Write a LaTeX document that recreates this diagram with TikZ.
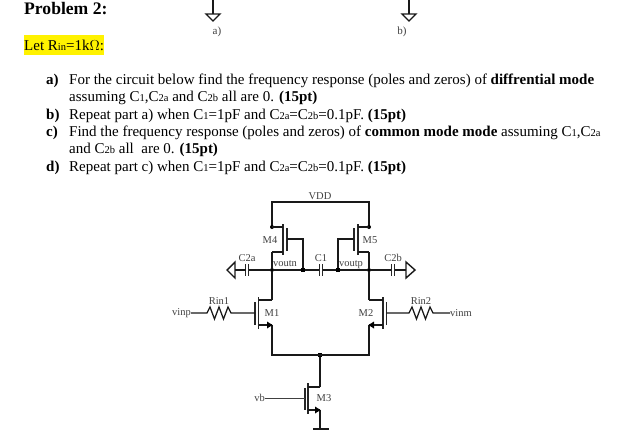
\documentclass[tikz,border=0pt]{standalone}
\usepackage{fontspec}
\setmainfont{Liberation Serif}
\newcommand{\sbt}[1]{{\fontsize{10.5}{10.5}\selectfont #1}}
\tikzset{
  wire/.style={line width=1.25pt,black!90},
  thin wire/.style={line width=1pt,black!75},
  bar/.style={line width=1.5pt,black!85},
  dot/.style={circle,fill=black,inner sep=0pt,minimum size=4pt},
  body/.style={anchor=base west,inner sep=0pt,font=\fontsize{15}{17}\selectfont},
  lab/.style={inner sep=0pt,text=black!75,font=\fontsize{10.5}{12}\selectfont}
}
\begin{document}
\begin{tikzpicture}[x=1pt,y=-1pt]
\useasboundingbox (0,0) rectangle (617,431);
% page text
\node[body,font=\fontsize{17.6}{19}\selectfont\bfseries] (title) at (24,14) {Problem 2:};
\fill[yellow] (24,35) rectangle (104,55);
\node[body] (rin) at (24,50) {Let R\sbt{in}=1k$\Omega$:};
\node[lab,font=\fontsize{11}{12}\selectfont] (la) at (217,32) {a)};
\node[lab,font=\fontsize{11}{12}\selectfont] (lb) at (402,32) {b)};
\node[body] (a1k) at (46,84) {\textbf{a)}};
\node[body] (a1) at (69,84) {For the circuit below find the frequency response (poles and zeros) of \textbf{diffrential mode}};
\node[body] (a2) at (69,101) {assuming C\sbt{1},C\sbt{2a} and C\sbt{2b} all are 0. \textbf{(15pt)}};
\node[body] (b1k) at (46,119) {\textbf{b)}};
\node[body] (b1) at (69,119) {Repeat part a) when C\sbt{1}=1pF and C\sbt{2a}=C\sbt{2b}=0.1pF. \textbf{(15pt)}};
\node[body] (c1k) at (46,136) {\textbf{c)}};
\node[body] (c1) at (69,136) {Find the frequency response (poles and zeros) of \textbf{common mode mode} assuming C\sbt{1},C\sbt{2a}};
\node[body] (c2) at (69,153) {and C\sbt{2b} all\ \ are 0. \textbf{(15pt)}};
\node[body] (d1k) at (46,171) {\textbf{d)}};
\node[body] (d1) at (69,171) {Repeat part c) when C\sbt{1}=1pF and C\sbt{2a}=C\sbt{2b}=0.1pF. \textbf{(15pt)}};
% top cropped grounds
\coordinate (ga0) at (213,0); \coordinate (ga) at (213,14);
\coordinate (gb0) at (409,0); \coordinate (gb) at (409,14);
\draw[wire,line width=1.4pt] (ga0) -- (ga);
\draw[wire,line width=1.4pt] (gb0) -- (gb);
\draw[wire,line width=1.4pt] (ga) ++(-7,0) -- ++(14,0) -- ++(-7,7) -- cycle;
\draw[wire,line width=1.4pt] (gb) ++(-7,0) -- ++(14,0) -- ++(-7,7) -- cycle;
% circuit key points
\coordinate (tl) at (272,202); \coordinate (tr) at (369,202);
\coordinate (s4) at (272,227); \coordinate (s5) at (369,227);
\coordinate (d4) at (272,252); \coordinate (d5) at (369,252);
\node[dot,minimum size=4pt] (n4) at (272,270) {};
\node[dot,minimum size=4pt] (n5) at (369,270) {};
\node[dot,rectangle,minimum size=4pt] (gl) at (303,270) {};
\node[dot,rectangle,minimum size=4pt] (gr) at (338,270) {};
\coordinate (d1c) at (272,300); \coordinate (d2c) at (369,300);
\coordinate (s1c) at (272,325); \coordinate (s2c) at (369,325);
\node[dot,rectangle,minimum size=4.5pt] (tail) at (320,355) {};
\coordinate (railL) at (272,355); \coordinate (railR) at (369,355);
\coordinate (d3) at (320,387); \coordinate (s3) at (320,410); \coordinate (g3end) at (320,429);
\node[lab] (vdd) at (320,196) {VDD};
% rails
\draw[wire] (s4) -- (tl) -- (tr) -- (s5);
\draw[wire] (d4) -- (n4) -- (d1c);
\draw[wire] (d5) -- (n5) -- (d2c);
\draw[wire] (s1c) -- (railL) -- (railR) -- (s2c);
\draw[wire] (tail) -- (d3);
\draw[wire] (s3) -- (g3end);
\draw[wire] (313,429) -- (329,429);
\fill (s4) circle (2); \fill (s5) circle (2);
% M4
\draw[bar] (283,224) -- (283,255);
\draw[bar] (287,228) -- (287,251);
\draw[wire] (s4) -- (283,227);
\draw[wire] (d4) -- (283,252);
\draw[wire] (287,239) -- (303,239) -- (gl);
% M5
\draw[bar] (358,224) -- (358,255);
\draw[bar] (354,228) -- (354,251);
\draw[wire] (s5) -- (358,227);
\draw[wire] (d5) -- (358,252);
\draw[wire] (354,239) -- (338,239) -- (gr);
% output wire with caps
\draw[wire] (n4) -- (gl) -- (319.5,270);
\draw[wire] (322.5,270) -- (gr) -- (n5);
\draw[bar] (319.5,264) -- (319.5,276);
\draw[bar] (322.5,264) -- (322.5,276);
\draw[wire] (n4) -- (248.5,270);
\draw[bar] (248.5,264) -- (248.5,276);
\draw[bar] (245.5,264) -- (245.5,276);
\draw[wire] (245.5,270) -- (235,270);
\draw[wire,line width=1.4pt] (235,262) -- (235,278) -- (227,270) -- cycle;
\draw[wire] (n5) -- (391.5,270);
\draw[bar] (391.5,264) -- (391.5,276);
\draw[bar] (394.5,264) -- (394.5,276);
\draw[wire] (394.5,270) -- (406,270);
\draw[wire,line width=1.4pt] (406,262) -- (406,278) -- (415,270) -- cycle;
% M1
\draw[bar] (258.5,297) -- (258.5,329);
\draw[bar] (255,302) -- (255,325);
\draw[wire] (d1c) -- (258.5,300);
\draw[wire] (258.5,325) -- (s1c);
\fill (272.5,325) -- (267,321.5) -- (267,328.5) -- cycle;
% M2
\draw[bar] (383,297) -- (383,329);
\draw[bar] (386.5,302) -- (386.5,325);
\draw[wire] (d2c) -- (383,300);
\draw[wire] (383,325) -- (s2c);
\fill (368.5,325) -- (374,321.5) -- (374,328.5) -- cycle;
% M3
\draw[bar] (308,383) -- (308,414);
\draw[bar] (305,388) -- (305,410);
\draw[wire] (d3) -- (308,387);
\draw[wire] (308,410) -- (s3);
\fill (320.5,410) -- (315,406.5) -- (315,413.5) -- cycle;
% inputs
\node[lab,anchor=east] (vinp) at (191,313) {vinp};
\node[lab,anchor=west] (vinm) at (450,313) {vinm};
\node[lab,anchor=east] (vb) at (265,398) {vb};
\draw[thin wire] (vb.east) -- (305,398);
\draw[wire] (vinp.east) -- (207,313) -- ++(3,-6) -- ++(4.5,12) -- ++(4.5,-12) -- ++(4.5,12) -- ++(4.5,-12) -- ++(3,6) -- (255,313);
\draw[wire] (386.5,313) -- (409,313) -- ++(3,-6) -- ++(4.5,12) -- ++(4.5,-12) -- ++(4.5,12) -- ++(4.5,-12) -- ++(3,6) -- (vinm.west);
% labels
\node[lab] (rin1) at (219,301) {Rin1};
\node[lab] (rin2) at (421,301) {Rin2};
\node[lab] (m1) at (272,313) {M1};
\node[lab] (m2) at (366,313) {M2};
\node[lab] (m3) at (324,398) {M3};
\node[lab] (m4) at (270,240) {M4};
\node[lab] (m5) at (370,240) {M5};
\node[lab] (c2a) at (247,258) {C2a};
\node[lab] (c1l) at (321,258) {C1};
\node[lab] (c2b) at (393,258) {C2b};
\node[lab] (voutn) at (285,264) {voutn};
\node[lab] (voutp) at (351,265) {voutp};
\end{tikzpicture}
\end{document}
